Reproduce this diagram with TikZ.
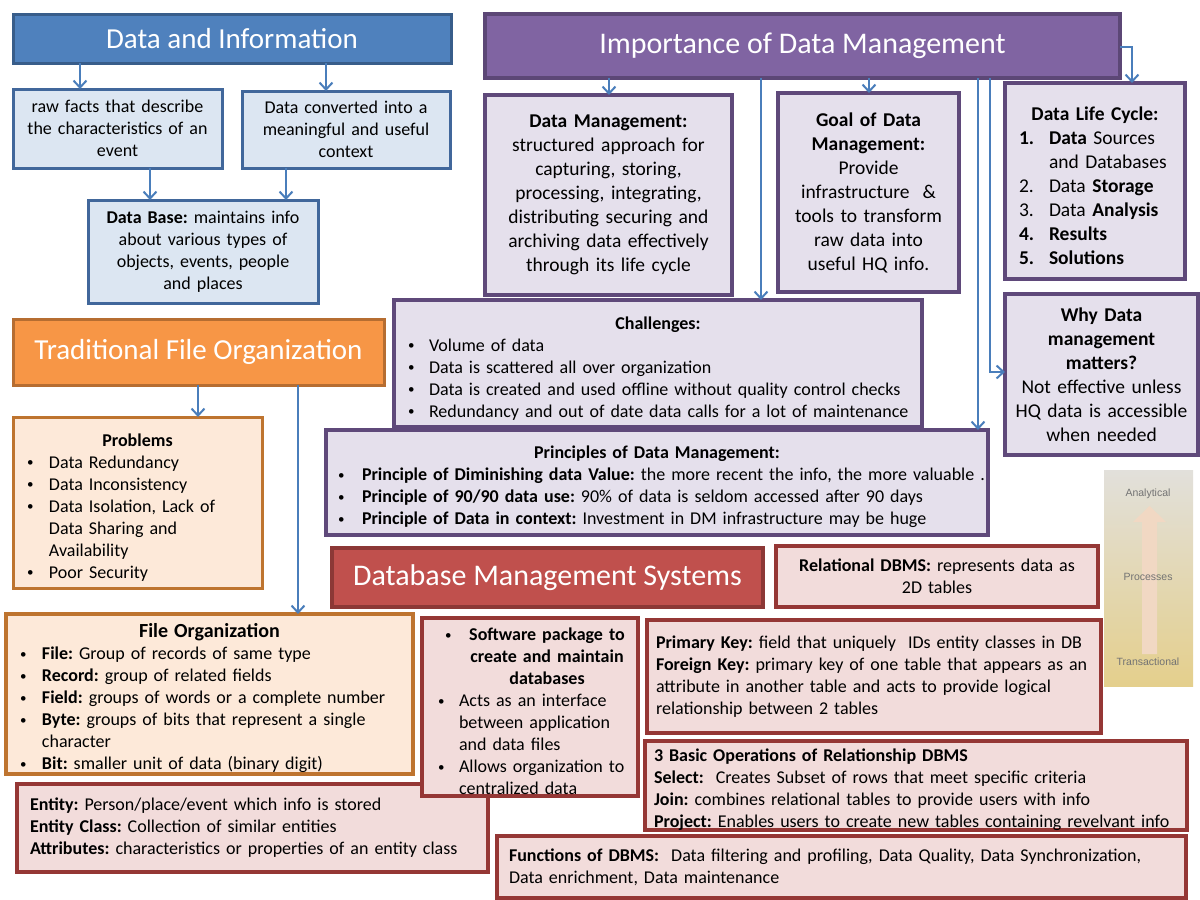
\documentclass[tikz,border=0pt]{standalone}
\usepackage{fontspec}
\setmainfont{Carlito}
\newfontfamily\arialf{Liberation Sans}
\usetikzlibrary{arrows.meta}
\frenchspacing
\definecolor{ttlblue}{HTML}{4F81BD}
\definecolor{ttlblueB}{HTML}{385D8A}
\definecolor{lblue}{HTML}{DCE6F2}
\definecolor{lblueB}{HTML}{41679B}
\definecolor{ttlpurp}{HTML}{8064A2}
\definecolor{ttlpurpB}{HTML}{5C4776}
\definecolor{lpurp}{HTML}{E5E0EC}
\definecolor{lpurpB}{HTML}{5F497A}
\definecolor{ttlorg}{HTML}{F79646}
\definecolor{ttlorgB}{HTML}{B66D31}
\definecolor{lorg}{HTML}{FDE9D9}
\definecolor{lorgB}{HTML}{BE742F}
\definecolor{ttlred}{HTML}{C0504D}
\definecolor{ttlredB}{HTML}{8C3836}
\definecolor{lred}{HTML}{F2DCDB}
\definecolor{lredB}{HTML}{953735}
\definecolor{arrc}{HTML}{4A7EBB}
\definecolor{gtop}{HTML}{E2E0DB}
\definecolor{gbot}{HTML}{E4CF8C}
\definecolor{peach}{HTML}{F1D8C3}
\newlength\blpre \newlength\blind
\newcommand\SetBL[2]{\setlength\blpre{#1}\setlength\blind{#2}}
\newcommand\Bul{{\fontsize{13}{13}\selectfont\raisebox{1.2pt}{\textbullet}}}
\newcommand\BI[1]{\par\noindent\hbox to\blind{\hskip\blpre\Bul\hfil}\ignorespaces#1}
\newcommand\CT[1]{\par\noindent\hskip\blind\ignorespaces#1}
\newcommand\NI[2]{\par\noindent\hbox to\blind{\hskip\blpre#1\hfil}\ignorespaces#2}
\newcommand\CL[2]{\par\noindent\hbox to\hsize{\hbox to\blind{\hskip\blpre#1\hfil}\hfil#2\hfil}}
\newcommand\HD[1]{\par\noindent\hbox to\hsize{\hfil#1\hfil}}
\tikzset{
  box/.style={anchor=north west, inner sep=0pt, outer sep=0pt},
  ttl/.style={box, text=white, align=center, font=\fontsize{29}{34}\selectfont},
  fa/.style={font=\fontsize{18}{22}\selectfont},
  fb/.style={font=\fontsize{19.5}{24}\selectfont},
  lbbox/.style={box, fill=lblue, draw=lblueB, line width=3pt, align=center, fa},
  lpbox/.style={box, fill=lpurp, draw=lpurpB, line width=4.5pt},
  lobox/.style={box, fill=lorg, draw=lorgB, line width=3pt, align=left, fa},
  lrbox/.style={box, fill=lred, draw=lredB, line width=4pt, align=left, fa},
  arr/.style={draw=arrc, line width=2.2pt, -{Straight Barb[length=7pt,width=13pt,line width=2pt]}},
  glab/.style={font=\arialf\fontsize{10.5}{12}\selectfont, text=black!55, inner sep=0pt}
}
\begin{document}
\begin{tikzpicture}[x=1pt,y=-1pt]
\useasboundingbox (0,0) rectangle (1200,900);
\fill[white] (0,0) rectangle (1200,900);

% ---------- Data and Information ----------
\node[ttl, fill=ttlblue, draw=ttlblueB, line width=3pt, minimum width=438pt, minimum height=49pt] (dinfo) at (13,14) {Data and Information};
\node[lbbox, minimum width=209pt, minimum height=79pt, text width=200pt] (raw) at (13,89) {raw facts that describe\\the characteristics of an\\event};
\node[lbbox, minimum width=208pt, minimum height=77pt, text width=200pt] (conv) at (242,91) {Data converted into a\\meaningful and useful\\context};
\node[lbbox, minimum width=230pt, minimum height=103pt, text width=220pt] (db) at (88,200) {\textbf{Data Base:} maintains info\\about various types of\\objects, events, people\\and places};

% ---------- Importance of Data Management ----------
\node[ttl, fill=ttlpurp, draw=ttlpurpB, line width=3.5pt, minimum width=635pt, minimum height=64pt, font=\fontsize{30}{34}\selectfont] (imp) at (485,14) {Importance of Data Management};
\node[lpbox, fb, align=center, minimum width=247pt, minimum height=200pt, text width=240pt] (dm) at (485,95) {\textbf{Data Management:}\\structured approach for\\capturing, storing,\\processing, integrating,\\distributing securing and\\archiving data effectively\\through its life cycle};
\node[lpbox, fb, align=center, minimum width=181pt, minimum height=199pt, text width=176pt] (goal) at (778,93) {\textbf{Goal of Data}\\\textbf{Management:}\\Provide\\infrastructure~~\&\\tools to transform\\raw data into\\useful HQ info.};
\node[lpbox, fb, align=left, minimum width=180pt, minimum height=196pt, text width=168pt] (dlc) at (1005,83) {\SetBL{8pt}{38pt}%
\HD{\textbf{Data Life Cycle:}}%
\NI{\textbf{1.}}{\textbf{Data} Sources}%
\CT{and Databases}%
\NI{2.}{Data \textbf{Storage}}%
\NI{3.}{Data \textbf{Analysis}}%
\NI{\textbf{4.}}{\textbf{Results}}%
\NI{\textbf{5.}}{\textbf{Solutions}}};
\node[lpbox, fb, align=center, minimum width=193pt, minimum height=161pt, text width=188pt] (why) at (1005,294) {\textbf{Why Data}\\\textbf{management}\\\textbf{matters?}\\Not effective unless\\HQ data is accessible\\when needed};
\node[lpbox, fa, align=left, minimum width=528pt, minimum height=127pt, text width=512pt] (chal) at (394,300) {\SetBL{6pt}{27pt}%
\HD{\textbf{Challenges:}}%
\BI{Volume of data}%
\BI{Data is scattered all over organization}%
\BI{Data is created and used offline without quality control checks}%
\BI{Redundancy and out of date data calls for a lot of maintenance}};
\node[lpbox, fa, align=left, minimum width=662pt, minimum height=105pt, text width=656pt] (prin) at (326,430) {\SetBL{9pt}{33pt}%
\HD{\textbf{Principles of Data Management:}}%
\BI{\mbox{\textbf{Principle of Diminishing data Value:} the more recent the info, the more valuable .}}%
\BI{\textbf{Principle of 90/90 data use:} 90\% of data is seldom accessed after 90 days}%
\BI{\textbf{Principle of Data in context:} Investment in DM infrastructure may be huge}};

% ---------- Traditional File Organization ----------
\node[ttl, fill=ttlorg, draw=ttlorgB, line width=3pt, minimum width=371pt, minimum height=66pt] (tfo) at (13,319) {Traditional File Organization};
\node[lobox, minimum width=249pt, minimum height=171pt, text width=233pt] (prob) at (13,417) {\SetBL{6pt}{28pt}%
\HD{\textbf{Problems}}%
\BI{Data Redundancy}%
\BI{Data Inconsistency}%
\BI{Data Isolation, Lack of}%
\CT{Data Sharing and}%
\CT{Availability}%
\BI{Poor Security}};
\node[lrbox, minimum width=471pt, minimum height=88pt, text width=445pt] (ent) at (17,784) {\textbf{Entity:} Person/place/event which info is stored\\\textbf{Entity Class:} Collection of similar entities\\\textbf{Attributes:} characteristics or properties of an entity class};
\node[lobox, line width=4.5pt, minimum width=407pt, minimum height=160pt, text width=391pt] (forg) at (6,614) {\SetBL{6pt}{28pt}%
\HD{\fontsize{20}{22}\selectfont\textbf{File Organization}}%
\BI{\textbf{File:} Group of records of same type}%
\BI{\textbf{Record:} group of related fields}%
\BI{\textbf{Field:} groups of words or a complete number}%
\BI{\textbf{Byte:} groups of bits that represent a single}%
\CT{character}%
\BI{\textbf{Bit:} smaller unit of data (binary digit)}};

% ---------- Database Management Systems ----------
\node[ttl, fill=ttlred, draw=ttlredB, line width=3.5pt, minimum width=431pt, minimum height=59pt, font=\fontsize{30}{34}\selectfont] (dbms) at (332,548) {Database Management Systems};
\node[lrbox, align=center, minimum width=322pt, minimum height=61pt, text width=310pt] (rel) at (776,546) {\textbf{Relational DBMS:} represents data as\\2D tables};
\node[lrbox, minimum width=216pt, minimum height=178pt, text width=202pt] (soft) at (422,618) {\SetBL{16pt}{34pt}%
\CL{\Bul}{\textbf{Software package to}}%
\CL{}{\textbf{create and maintain}}%
\CL{}{\textbf{databases}}%
\SetBL{9pt}{30pt}%
\BI{Acts as an interface}%
\CT{between application}%
\CT{and data files}%
\BI{Allows organization to}%
\CT{centralized data}};
\node[lrbox, minimum width=454pt, minimum height=113pt, text width=436pt] (pk) at (647,620) {\textbf{Primary Key:} field that uniquely~ IDs entity classes in DB\\\textbf{Foreign Key:} primary key of one table that appears as an\\attribute in another table and acts to provide logical\\relationship between 2 tables};
\node[lrbox, minimum width=542pt, minimum height=87pt, text width=524pt] (ops) at (645,741) {\rule{0pt}{20pt}\textbf{3 Basic Operations of Relationship DBMS}\\\textbf{Select:}~ Creates Subset of rows that meet specific criteria\\\textbf{Join:} combines relational tables to provide users with info\\\textbf{Project:} Enables users to create new tables containing revelvant info};
\node[lrbox, minimum width=689pt, minimum height=62pt, text width=665pt] (func) at (497,836) {\textbf{Functions of DBMS:}~ Data filtering and profiling, Data Quality, Data Synchronization,\\Data enrichment, Data maintenance};

% ---------- side graphic ----------
\shade[top color=gtop, bottom color=gbot] (1104,470) rectangle (1193,686);
\fill[peach] (1142,654) -- (1142,522) -- (1133,522) -- (1149.5,506) -- (1166,522) -- (1157,522) -- (1157,654) -- cycle;
\node[glab] (lblA) at (1148,494) {Analytical};
\node[glab] (lblP) at (1148,577) {Processes};
\node[glab] (lblT) at (1148,662) {Transactional};

% ---------- connectors ----------
\coordinate (c80) at (80,0);
\coordinate (c326) at (326,0);
\coordinate (c150) at (150,0);
\coordinate (c286) at (286,0);
\coordinate (c609) at (609,0);
\coordinate (c761) at (761,0);
\coordinate (c869) at (869,0);
\coordinate (c978) at (978,0);
\coordinate (c990) at (990,0);
\coordinate (c1132) at (1132,0);
\coordinate (r47) at (0,47);
\coordinate (r372) at (0,372);
\coordinate (c198) at (198,0);
\coordinate (c298) at (298,0);

\draw[arr] (dinfo.south -| c80) -- (raw.north -| c80);
\draw[arr] (dinfo.south -| c326) -- (conv.north -| c326);
\draw[arr] (raw.south -| c150) -- (db.north -| c150);
\draw[arr] (conv.south -| c286) -- (db.north -| c286);

\draw[arr] (imp.south -| c609) -- (dm.north -| c609);
\draw[arr] (imp.south -| c761) -- (chal.north -| c761);
\draw[arr] (imp.south -| c869) -- (goal.north -| c869);
\draw[arr] (imp.south -| c978) -- (prin.north -| c978);
\draw[arr] (imp.south -| c990) |- (why.west |- r372);
\draw[arr] (imp.east |- r47) -| (dlc.north -| c1132);

\draw[arr] (tfo.south -| c198) -- (prob.north -| c198);
\draw[arr] (tfo.south -| c298) -- (forg.north -| c298);
\end{tikzpicture}
\end{document}
